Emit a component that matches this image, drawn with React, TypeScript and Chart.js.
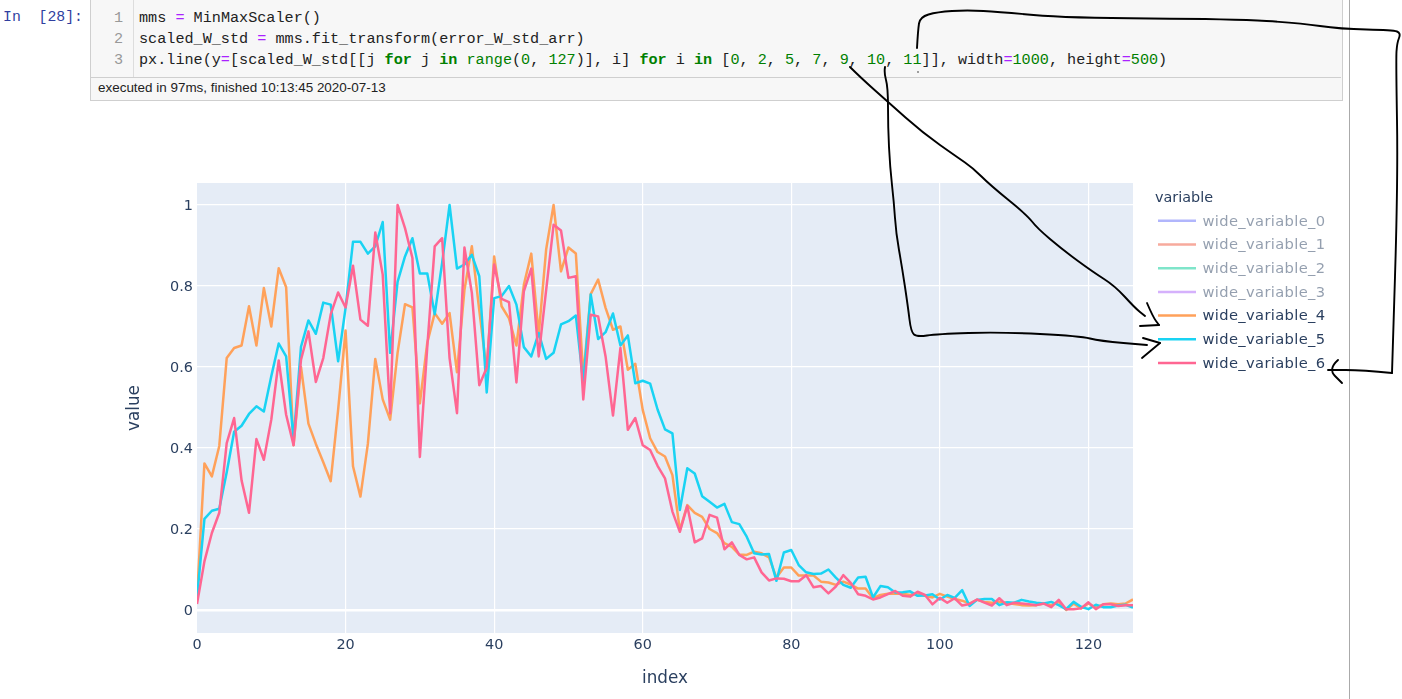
import React, { useEffect, useRef } from "react";
import { Chart, registerables } from "chart.js";

Chart.register(...registerables);

const seriesNames = ["wide_variable_0", "wide_variable_1", "wide_variable_2", "wide_variable_3", "wide_variable_4", "wide_variable_5", "wide_variable_6"];
const seriesColors = ["#636EFA", "#EF553B", "#00CC96", "#AB63FA", "#FFA15A", "#19D3F3", "#FF6692"];

const variable4 = [
  0.03, 0.362, 0.33, 0.405, 0.622, 0.647, 0.653, 0.75, 0.653, 0.795,
  0.7, 0.844, 0.797, 0.407, 0.6, 0.46, 0.41, 0.365, 0.318, 0.495,
  0.69, 0.355, 0.28, 0.41, 0.62, 0.52, 0.47, 0.635, 0.755, 0.747,
  0.51, 0.66, 0.733, 0.707, 0.733, 0.587, 0.79, 0.898, 0.74, 0.59,
  0.873, 0.75, 0.72, 0.653, 0.803, 0.88, 0.68, 0.89, 1, 0.836,
  0.895, 0.88, 0.577, 0.78, 0.816, 0.746, 0.692, 0.7, 0.593, 0.608,
  0.494, 0.424, 0.39, 0.379, 0.333, 0.197, 0.259, 0.24, 0.23, 0.2,
  0.19, 0.165, 0.156, 0.137, 0.136, 0.144, 0.14, 0.13, 0.08, 0.105,
  0.105, 0.085, 0.085, 0.085, 0.07, 0.068, 0.062, 0.07, 0.063, 0.053,
  0.053, 0.029, 0.037, 0.04, 0.041, 0.04, 0.037, 0.041, 0.035, 0.031,
  0.04, 0.033, 0.027, 0.023, 0.016, 0.025, 0.02, 0.018, 0.02, 0.018,
  0.015, 0.012, 0.011, 0.012, 0.016, 0.012, 0.02, 0, 0.016, 0.004,
  0.016, 0.006, 0.014, 0.016, 0.014, 0.016, 0.026,
];

const variable5 = [
  0.03, 0.225, 0.245, 0.25, 0.34, 0.44, 0.455, 0.484, 0.503, 0.49,
  0.577, 0.658, 0.626, 0.42, 0.65, 0.715, 0.682, 0.759, 0.754, 0.614,
  0.746, 0.909, 0.909, 0.88, 0.898, 0.958, 0.635, 0.81, 0.873, 0.918,
  0.831, 0.831, 0.73, 0.857, 1, 0.843, 0.853, 0.877, 0.824, 0.537,
  0.77, 0.775, 0.8, 0.754, 0.649, 0.626, 0.684, 0.62, 0.635, 0.705,
  0.713, 0.727, 0.56, 0.779, 0.669, 0.686, 0.732, 0.653, 0.678, 0.56,
  0.566, 0.559, 0.495, 0.446, 0.436, 0.247, 0.35, 0.337, 0.281, 0.267,
  0.253, 0.262, 0.217, 0.212, 0.181, 0.14, 0.137, 0.138, 0.072, 0.142,
  0.148, 0.111, 0.093, 0.089, 0.09, 0.1, 0.08, 0.062, 0.055, 0.08,
  0.082, 0.031, 0.059, 0.056, 0.043, 0.044, 0.046, 0.035, 0.036, 0.039,
  0.026, 0.037, 0.03, 0.049, 0.01, 0.025, 0.027, 0.027, 0.012, 0.019,
  0.018, 0.025, 0.021, 0.018, 0.016, 0.02, 0.012, 0.002, 0.02, 0.008,
  0.002, 0.013, 0.007, 0.007, 0.011, 0.013, 0.006,
];

const variable6 = [
  0.015, 0.12, 0.19, 0.24, 0.412, 0.474, 0.32, 0.24, 0.422, 0.371,
  0.47, 0.616, 0.482, 0.407, 0.618, 0.688, 0.563, 0.622, 0.73, 0.784,
  0.747, 0.85, 0.717, 0.702, 0.932, 0.828, 0.486, 1, 0.943, 0.869,
  0.378, 0.65, 0.898, 0.918, 0.622, 0.486, 0.895, 0.783, 0.555, 0.598,
  0.853, 0.768, 0.76, 0.562, 0.787, 0.843, 0.626, 0.79, 0.951, 0.937,
  0.82, 0.824, 0.52, 0.729, 0.725, 0.626, 0.48, 0.647, 0.445, 0.474,
  0.407, 0.395, 0.356, 0.325, 0.243, 0.193, 0.257, 0.167, 0.177, 0.235,
  0.228, 0.15, 0.167, 0.136, 0.125, 0.13, 0.093, 0.073, 0.078, 0.077,
  0.071, 0.071, 0.086, 0.056, 0.059, 0.041, 0.058, 0.086, 0.067, 0.039,
  0.035, 0.026, 0.031, 0.039, 0.047, 0.035, 0.033, 0.045, 0.037, 0.014,
  0.03, 0.018, 0.029, 0.011, 0.015, 0.026, 0.018, 0.011, 0.029, 0.012,
  0.018, 0.016, 0.014, 0.012, 0.016, 0.007, 0.025, 0.002, 0.002, 0.004,
  0.019, 0.002, 0.014, 0.014, 0.01, 0.012, 0.012,
];

const xTickValues = [0, 20, 40, 60, 80, 100, 120];
const yTickValues = [0, 0.2, 0.4, 0.6, 0.8, 1];
const legendTitle = "variable";
const xTitle = "index";
const yTitle = "value";

const FONT = "'DejaVu Sans', Verdana, sans-serif";
const INK = "#2a3f5f";

const toPoints = (values: number[]) => values.map((y, x) => ({ x, y }));

const plotBackground = {
  id: "plotBackground",
  beforeDraw(chart: any) {
    const { ctx, chartArea: a } = chart;
    ctx.save();
    ctx.fillStyle = "#E5ECF6";
    ctx.fillRect(a.left, a.top, a.right - a.left, a.bottom - a.top);
    ctx.restore();
  },
};

const plotlyLegend = {
  id: "plotlyLegend",
  afterDraw(chart: any) {
    const { ctx } = chart;
    ctx.save();
    ctx.textBaseline = "middle";
    ctx.textAlign = "left";
    ctx.font = `14.4px ${FONT}`;
    ctx.fillStyle = INK;
    ctx.fillText(legendTitle, 1155, 198.5);
    ctx.font = `14.7px ${FONT}`;
    (ctx as any).letterSpacing = "0.35px";
    chart.data.datasets.forEach((ds: any, i: number) => {
      const y = 220.8 + i * 23.7;
      ctx.globalAlpha = ds.hidden ? 0.5 : 1;
      ctx.strokeStyle = ds.borderColor;
      ctx.lineWidth = 2.5;
      ctx.beginPath();
      ctx.moveTo(1158, y);
      ctx.lineTo(1196, y);
      ctx.stroke();
      ctx.fillStyle = INK;
      ctx.fillText(ds.label, 1202.5, y + 1);
    });
    ctx.restore();
  },
};

function Plot() {
  const ref = useRef<HTMLCanvasElement>(null);
  useEffect(() => {
    const visible: Record<number, number[]> = { 4: variable4, 5: variable5, 6: variable6 };
    const chart = new Chart(ref.current!, {
      type: "line",
      data: {
        datasets: seriesNames.map((label, i) => ({
          label,
          data: toPoints(visible[i] ?? []),
          hidden: !visible[i],
          borderColor: seriesColors[i],
          backgroundColor: seriesColors[i],
          borderWidth: 2.5,
          pointRadius: 0,
          tension: 0,
          borderJoinStyle: "round" as const,
          order: 6 - i,
        })),
      },
      options: {
        responsive: false,
        animation: false,
        events: [],
        layout: { padding: { left: 125, top: 183, right: 269, bottom: 10 } },
        plugins: { legend: { display: false }, tooltip: { enabled: false } },
        scales: {
          x: {
            type: "linear",
            min: 0,
            max: 126,
            afterFit: (s: any) => { s.height = 56; },
            afterBuildTicks: (s: any) => { s.ticks = xTickValues.map((value) => ({ value })); },
            grid: { color: (c: any) => (c.tick && c.tick.value === 0 ? "rgba(255,255,255,0)" : "#ffffff"), lineWidth: 1.2, drawTicks: false },
            border: { display: false },
            ticks: { color: INK, font: { family: FONT, size: 14.4 }, padding: 4, maxRotation: 0 },
            title: { display: true, text: xTitle, color: INK, font: { family: FONT, size: 16.8 }, padding: 0 },
          },
          y: {
            type: "linear",
            min: -0.0568,
            max: 1.0543,
            afterFit: (s: any) => { s.width = 72; },
            afterBuildTicks: (s: any) => { s.ticks = yTickValues.map((value) => ({ value })); },
            grid: {
              color: "#ffffff",
              lineWidth: (c: any) => (c.tick && c.tick.value === 0 ? 2.6 : 1.2),
              drawTicks: false,
            },
            border: { display: false },
            ticks: {
              color: INK,
              font: { family: FONT, size: 14.4 },
              padding: 4,
              labelOffset: 1,
              callback: (v: any) => String(v),
            },
            title: { display: true, text: yTitle, color: INK, font: { family: FONT, size: 16.8 }, padding: 0 },
          },
        },
      },
      plugins: [plotBackground, plotlyLegend],
    } as any);
    return () => chart.destroy();
  }, []);
  return <canvas ref={ref} width={1402} height={699} style={{ position: "absolute", left: 0, top: 0 }} />;
}

const G = ({ c }: { c: string }) => <span style={{ color: "#008000" }}>{c}</span>;
const K = ({ c }: { c: string }) => <span style={{ color: "#008000", fontWeight: 700 }}>{c}</span>;
const O = ({ c }: { c: string }) => <span style={{ color: "#AA22FF" }}>{c}</span>;

const codeLine: React.CSSProperties = {
  position: "absolute",
  left: 139,
  whiteSpace: "pre",
  fontFamily: "'Liberation Mono', monospace",
  fontSize: 15.17,
  lineHeight: "20px",
  color: "#222",
};
const lineNo: React.CSSProperties = {
  position: "absolute",
  left: 96,
  width: 27,
  textAlign: "right",
  fontFamily: "'Liberation Mono', monospace",
  fontSize: 15.17,
  lineHeight: "20px",
  color: "#999",
};

function Notebook() {
  return (
    <>
      <div style={{ position: "absolute", left: 3, top: 7, fontFamily: "'Liberation Mono', monospace", fontSize: 14.8, lineHeight: "20px", color: "#303F9F", whiteSpace: "pre" }}>In  [28]:</div>
      <div style={{ position: "absolute", left: 90, top: -2, width: 1251, height: 101, background: "#f7f7f7", border: "1px solid #cfcfcf" }} />
      <div style={{ position: "absolute", left: 133, top: 0, width: 1, height: 77, background: "#ddd" }} />
      <div style={{ position: "absolute", left: 91, top: 77, width: 1250, height: 1, background: "#cfcfcf" }} />
      <div style={{ ...lineNo, top: 8 }}>1</div>
      <div style={{ ...lineNo, top: 29 }}>2</div>
      <div style={{ ...lineNo, top: 50 }}>3</div>
      <div style={{ ...codeLine, top: 8 }}>mms <O c="=" /> MinMaxScaler()</div>
      <div style={{ ...codeLine, top: 29 }}>scaled_W_std <O c="=" /> mms.fit_transform(error_W_std_arr)</div>
      <div style={{ ...codeLine, top: 50 }}>
        px.line(y<O c="=" />[scaled_W_std[[j <K c="for" /> j <K c="in" /> <G c="range" />(<G c="0" />, <G c="127" />)], i] <K c="for" /> i <K c="in" /> [<G c="0" />, <G c="2" />, <G c="5" />, <G c="7" />, <G c="9" />, <G c="10" />, <G c="11" />]], width<O c="=" /><G c="1000" />, height<O c="=" /><G c="500" />)
      </div>
      <div style={{ position: "absolute", left: 98, top: 80, fontFamily: "'Liberation Sans', Arial, sans-serif", fontSize: 13.45, lineHeight: "16px", color: "#222", whiteSpace: "pre" }}>executed in 97ms, finished 10:13:45 2020-07-13</div>
      <div style={{ position: "absolute", left: 1349, top: 0, width: 1, height: 699, background: "#aaa" }} />
    </>
  );
}

// The hand-drawn arrows that sit on top of the screenshot (annotation ink, not chart data).
const inkLines: [number, number][][] = [
  [[917, 48], [918, 30], [920, 17], [937, 12], [967, 10], [1000, 12], [1067, 18], [1233, 19], [1300, 23], [1340, 29], [1393, 30], [1401, 33], [1397, 43], [1396, 60], [1398, 180], [1392, 373]],
  [[1392, 373], [1363, 370], [1328, 370]],
  [[1338, 360], [1328, 369], [1342, 383]],
  [[850, 67], [860, 77], [888, 102], [923, 133], [957, 157], [973, 168], [990, 185], [1027, 215], [1037, 228], [1063, 250], [1093, 272], [1115, 286], [1135, 308], [1145, 316]],
  [[1147, 303], [1153, 317], [1159, 325]],
  [[1159, 325], [1140, 326]],
  [[885, 67], [884, 73], [888, 87], [888, 127], [890, 167], [894, 203], [896, 233], [902, 267], [908, 307], [911, 332], [917, 337], [937, 334], [1000, 332], [1080, 336], [1100, 341], [1147, 345]],
  [[1143, 338], [1160, 343]],
  [[1160, 343], [1142, 358]],
];

const smoothPath = (pts: [number, number][]) => {
  let d = `M${pts[0][0]} ${pts[0][1]}`;
  for (let i = 1; i < pts.length - 1; i++) {
    const mx = (pts[i][0] + pts[i + 1][0]) / 2;
    const my = (pts[i][1] + pts[i + 1][1]) / 2;
    d += ` Q${pts[i][0]} ${pts[i][1]} ${mx} ${my}`;
  }
  const last = pts[pts.length - 1];
  return d + ` L${last[0]} ${last[1]}`;
};

function Annotations() {
  return (
    <svg width={1402} height={699} style={{ position: "absolute", left: 0, top: 0, pointerEvents: "none" }}>
      {inkLines.map((pts, i) => (
        <path key={i} d={smoothPath(pts)} fill="none" stroke="#000" strokeWidth={1.9} strokeLinejoin="round" strokeLinecap="round" />
      ))}
      <circle cx={918} cy={72} r={0.7} fill="#000" />
    </svg>
  );
}

export default function App() {
  return (
    <div style={{ position: "fixed", left: 0, top: 0, width: 1402, height: 699, overflow: "hidden", background: "#fff" }}>
      <Notebook />
      <Plot />
      <Annotations />
    </div>
  );
}
